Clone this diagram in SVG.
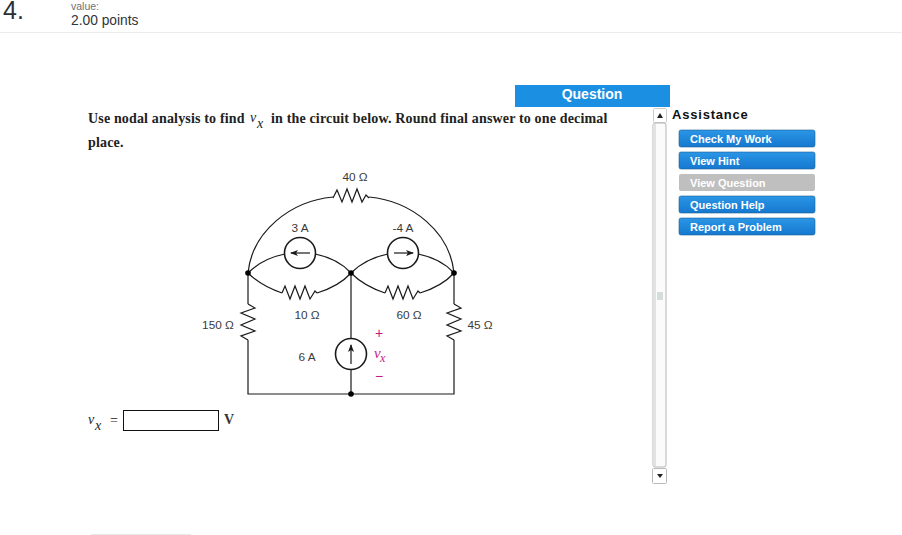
<svg xmlns="http://www.w3.org/2000/svg" width="902" height="535" viewBox="0 0 902 535">
<style>
.w{fill:none;stroke:#1a1a1a;stroke-width:1.2}
.s{fill:#fff;stroke:#1a1a1a;stroke-width:1.6}
.d{fill:#000}
.l{font:11.8px "Liberation Sans",Arial,sans-serif;fill:#3a3a3a}
.t{font:bold 14px "Liberation Serif","Times New Roman",serif;fill:#222;letter-spacing:.16px}
.i{font:italic 14px "Liberation Serif",serif;fill:#222}
.b{font:bold 11px "Liberation Sans",Arial,sans-serif;fill:#fff}
.m{font:italic 15px "Liberation Serif",serif;fill:#c2187f}
</style>
<defs>
<linearGradient id="g" x1="0" y1="0" x2="0" y2="1"><stop offset="0" stop-color="#2b96e6"/><stop offset="1" stop-color="#1578cf"/></linearGradient>
<marker id="a" markerWidth="8" markerHeight="6" refX="7" refY="3" orient="auto" markerUnits="userSpaceOnUse"><path d="M0 0L8 3L0 6L2 3Z" fill="#1a1a1a"/></marker>
</defs>
<rect width="902" height="535" fill="#fff"/>
<g id="header">
<text x="3" y="19" font-family="'Liberation Sans',sans-serif" font-size="25" fill="#2a2f36">4.</text>
<text x="71" y="10" font-family="'Liberation Sans',sans-serif" font-size="10.5" fill="#6b7278">value:</text>
<text x="71" y="25" font-family="'Liberation Sans',sans-serif" font-size="13.800" fill="#30353a">2.00 points</text>
<rect x="0" y="32" width="902" height="1" fill="#ececec"/>
</g>
<g id="question-tab">
<rect x="515" y="85" width="155" height="22" fill="#1b90e2"/>
<text x="592" y="99" text-anchor="middle" font-family="'Liberation Sans',sans-serif" font-weight="bold" font-size="14" fill="#fff">Question</text>
</g>
<g id="prompt">
<text class="t" x="88" y="123">Use nodal analysis to find</text>
<text class="i" x="250" y="122">v</text><text class="i" x="257" y="128">x</text>
<text class="t" x="271" y="123">in the circuit below. Round final answer to one decimal</text>
<text class="t" x="88" y="147">place.</text>
</g>
<g id="connectors">
<path class="w" d="M248 273C252 232 290 201 333 197M369 197C412 201 450 232 454 273"/>
<path class="w" d="M248 273C258 263 270 257 285 254M315 254C330 257 342 263 351 273C361 263 373 257 388 254M418 254C433 257 445 263 454 273"/>
<path class="w" d="M248 273C258 283 270 289 282 293M317 293C330 289 342 283 351 273C361 283 373 289 385 293M420 293C433 289 445 283 454 273"/>
<path class="w" d="M248 273V304M248 340V394H454V340M454 304V273M351 273V339M351 370V394"/>
<path class="w" d="M333 198L337 190L342 202L347 189L352 202L357 189L362 202L366 195L369 198"/>
<path class="w" d="M282 293L285 286L290 299L295 286L300 299L305 286L310 299L315 291L317 293"/>
<path class="w" d="M385 293L388 286L393 299L398 286L403 299L408 286L413 299L418 291L420 293"/>
<path class="w" d="M248 304L255 308L241 313L255 319L241 325L255 331L241 336L248 340"/>
<path class="w" d="M454 304L461 308L447 313L461 319L447 325L461 331L447 336L454 340"/>
</g>
<g id="source-3a"><circle class="s" cx="300" cy="253" r="15.5"/><path class="w" d="M310 253H291" marker-end="url(#a)"/></g>
<g id="source-4a"><circle class="s" cx="403" cy="253" r="15.5"/><path class="w" d="M394 253H413" marker-end="url(#a)"/></g>
<g id="source-6a"><circle class="s" cx="351" cy="354" r="15.5"/><path class="w" d="M351 364V345" marker-end="url(#a)"/></g>
<g id="nodes"><circle class="d" cx="248" cy="273" r="2.8"/><circle class="d" cx="351" cy="273" r="2.8"/><circle class="d" cx="454" cy="273" r="2.8"/><circle class="d" cx="351" cy="394" r="2.8"/></g>
<g id="labels">
<text class="l" x="355" y="181" text-anchor="middle">40 Ω</text>
<text class="l" x="300" y="232" text-anchor="middle">3 A</text>
<text class="l" x="403" y="232" text-anchor="middle">-4 A</text>
<text class="l" x="307" y="319" text-anchor="middle">10 Ω</text>
<text class="l" x="409" y="319" text-anchor="middle">60 Ω</text>
<text class="l" x="218" y="329" text-anchor="middle">150 Ω</text>
<text class="l" x="480" y="329" text-anchor="middle">45 Ω</text>
<text class="l" x="307" y="361" text-anchor="middle">6 A</text>
<text x="379" y="338" text-anchor="middle" font-family="'Liberation Sans',sans-serif" font-size="14" fill="#c2187f">+</text>
<text class="m" x="374" y="358">v</text><text class="m" x="380" y="362" style="font-size:12px">x</text>
<text x="379" y="381" text-anchor="middle" font-family="'Liberation Sans',sans-serif" font-size="14" fill="#c2187f">−</text>
</g>
<g id="answer">
<text class="i" x="88" y="424">v</text><text class="i" x="95" y="430">x</text>
<text x="110" y="425" font-family="'Liberation Serif',serif" font-size="14" fill="#222">=</text>
<rect x="123.500" y="410.500" width="95" height="20" fill="#fff" stroke="#111" stroke-width="1"/>
<text x="224" y="424" font-family="'Liberation Serif',serif" font-weight="bold" font-size="14" fill="#333">V</text>
</g>
<g id="scrollbar">
<rect x="653.500" y="108.500" width="13" height="14" rx="1" fill="#fff" stroke="#ccc"/>
<path d="M657 118L660 113L663 118Z" fill="#222"/>
<rect x="653" y="123" width="13" height="344" rx="2" fill="#fbfbfb" stroke="#b5b5b5"/>
<rect x="653" y="124" width="3" height="342" fill="#e2e2e2"/>
<rect x="657" y="292" width="6" height="8" fill="#d5dcdc"/>
<rect x="652.500" y="468.500" width="14" height="15" rx="1" fill="#fff" stroke="#bbb"/>
<path d="M657 474H663L660 478Z" fill="#222"/>
</g>
<g id="assistance">
<text x="672" y="119" font-family="'Liberation Sans',sans-serif" font-weight="bold" font-size="13" letter-spacing=".8" fill="#111">Assistance</text>
<g id="btn-check"><rect x="679" y="130" width="136" height="17" rx="2" fill="url(#g)" stroke="#1b5f96" stroke-width=".6"/><text class="b" x="690" y="143">Check My Work</text></g>
<g id="btn-hint"><rect x="679" y="152" width="136" height="17" rx="2" fill="url(#g)" stroke="#1b5f96" stroke-width=".6"/><text class="b" x="690" y="165">View Hint</text></g>
<g id="btn-question"><rect x="679" y="174" width="136" height="17" rx="2" fill="#bfbfbf"/><text class="b" x="690" y="187">View Question</text></g>
<g id="btn-help"><rect x="679" y="196" width="136" height="17" rx="2" fill="url(#g)" stroke="#1b5f96" stroke-width=".6"/><text class="b" x="690" y="209">Question Help</text></g>
<g id="btn-report"><rect x="679" y="218" width="136" height="17" rx="2" fill="url(#g)" stroke="#1b5f96" stroke-width=".6"/><text class="b" x="690" y="231">Report a Problem</text></g>
</g>
<rect x="91" y="534" width="100" height="1" fill="#e8e8e8"/>
</svg>
